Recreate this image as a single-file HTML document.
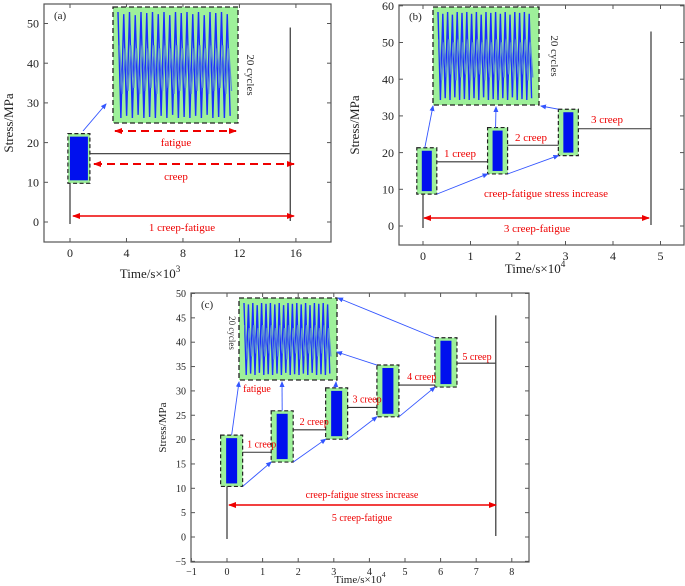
<!DOCTYPE html>
<html><head><meta charset="utf-8"><style>
html,body{margin:0;padding:0;background:#fff}
svg{display:block}
text{font-family:"Liberation Serif",serif}
</style></head><body>
<svg id="fig" width="685" height="586" viewBox="0 0 685 586" xmlns="http://www.w3.org/2000/svg">
<defs>
<marker id="ar" markerWidth="8" markerHeight="8" refX="7" refY="4" orient="auto" markerUnits="userSpaceOnUse"><path d="M0,1 L8,4 L0,7 Z" fill="#e00"/></marker>
<marker id="al" markerWidth="8" markerHeight="8" refX="1" refY="4" orient="auto" markerUnits="userSpaceOnUse"><path d="M8,1 L0,4 L8,7 Z" fill="#e00"/></marker>
<marker id="ab" markerWidth="6" markerHeight="6" refX="5" refY="3" orient="auto" markerUnits="userSpaceOnUse"><path d="M0,0.5 L6,3 L0,5.5 Z" fill="#3355ff"/></marker>
</defs>
</svg>
<script>
// ---- data ----
const aXTicks=[0,4,8,12,16];
const aYTicks=[0,10,20,30,40,50];
const aBoxTime=[0.63];
const aBlueLow=[10.5];
const aBlueHigh=[21.5];
const aCreep=[17.2];
const aEnd=15.6, aPeak=49;

const bXTicks=[0,1,2,3,4,5];
const bYTicks=[0,10,20,30,40,50,60];
const bBoxTime=[0.08,1.57,3.06];
const bBlueLow=[9.5,15,20];
const bBlueHigh=[20.5,26,31];
const bCreep=[17.5,22,26.5];
const bEnd=4.8, bPeak=53;

const cXTicks=[-1,0,1,2,3,4,5,6,7,8];
const cYTicks=[-5,0,5,10,15,20,25,30,35,40,45,50];
const cBoxTime=[0.13,1.55,3.08,4.52,6.15];
const cBlueLow=[11,16,20.7,25.3,31.4];
const cBlueHigh=[20.3,25.3,30,34.7,40.3];
const cCreep=[17.4,22,26.6,31.2,35.7];
const cEnd=7.55, cPeak=45.5;

const waveHigh=[1,0.98,1,0.97,1,0.99,1,0.98,1,0.97,1,0.99,1,0.98,1,0.97,1,0.99,1,0.98];
const waveLow=[0,0.02,0,0.03,0,0.01,0,0.02,0,0.03,0,0.01,0,0.02,0,0.03,0,0.01,0,0.02];

// ---- helpers ----
const S=document.getElementById('fig');
const NS='http://www.w3.org/2000/svg';
function el(tag,at,txt){const e=document.createElementNS(NS,tag);for(const k in at)e.setAttribute(k,at[k]);if(txt!==undefined)e.textContent=txt;S.appendChild(e);return e;}

function panel(p){
  const sx=v=>p.x0+v*p.kx, sy=v=>p.y0-v*p.ky;
  p.sx=sx;p.sy=sy;
  const fr=el('rect',{x:p.L,y:p.T,width:p.R-p.L,height:p.B-p.T,fill:'none',stroke:'#555','stroke-width':1.2});
  
  
  p.xt.forEach(v=>{
    const X=sx(v);
    el('line',{x1:X,y1:p.B,x2:X,y2:p.B-4,stroke:'#555'});
    el('line',{x1:X,y1:p.T,x2:X,y2:p.T+4,stroke:'#555'});
    const t=el('text',{x:X,y:p.B+p.fs+3,'font-size':p.fs,'text-anchor':'middle',fill:'#222'},String(v).replace('-','−'));
    
    
  });
  p.yt.forEach(v=>{
    const Y=sy(v);
    el('line',{x1:p.L,y1:Y,x2:p.L+4,y2:Y,stroke:'#555'});
    el('line',{x1:p.R,y1:Y,x2:p.R-4,y2:Y,stroke:'#555'});
    const t=el('text',{x:p.L-5,y:Y+p.fs*0.35,'font-size':p.fs,'text-anchor':'end',fill:'#222'},String(v).replace('-','−'));
    
    
  });
  const yl=el('text',{x:0,y:0,'font-size':p.lfs,'text-anchor':'middle',fill:'#222',transform:`translate(${p.ylx},${(p.T+p.B)/2}) rotate(-90)`},'Stress/MPa');
  
  
  const xl=el('text',{x:p.xlx,y:p.xly,'font-size':p.lfs,'text-anchor':'middle',fill:'#222'});
  
  
  xl.innerHTML='Time/s×10<tspan dy="-6" font-size="'+(p.lfs*0.7)+'">'+p.exp+'</tspan>';
  const pl=el('text',{x:p.L+10,y:p.T+15,'font-size':11,fill:'#222'},p.tag);
  
  
}

function inset(id,x,y,w,h){
  const r=el('rect',{x:x,y:y,width:w,height:h,fill:'#9ef09a',stroke:'#222','stroke-width':1.3,'stroke-dasharray':'5,3'});
  
  
  const n=waveHigh.length, step=(w-10)/n;
  let d1='',d2='';
  for(let i=0;i<n;i++){
    const x1=x+5+i*step, x2=x1+step/2;
    const top=y+5+(1-waveHigh[i])*(h-10), bot=y+5+(1-waveLow[i])*(h-10);
    d1+=(i?'L':'M')+x1+','+top+' L'+x2+','+bot+' ';
    const mt=y+h*0.33+(i%2)*3, mb=y+h*0.75-(i%3)*3;
    d2+=(i?'L':'M')+(x1+step*0.25)+','+mt+' L'+(x1+step*0.75)+','+mb+' ';
  }
  const p1=el('path',{d:d1,fill:'none',stroke:'#1a2cff','stroke-width':1.4});
  
  
  const p2=el('path',{d:d2,fill:'none',stroke:'#5a8ad8','stroke-width':1.3});
  
  
}

function boxes(p,times,lows,highs,creeps,end,peak,bw,blw){
  const res=[];
  times.forEach((t,i)=>{
    const X=p.sx(t), yl=p.sy(lows[i]), yh=p.sy(highs[i]);
    const g=el('rect',{x:X-bw/2,y:yh-3,width:bw,height:yl-yh+6,fill:'#9ef09a',stroke:'#222','stroke-width':1.2,'stroke-dasharray':'4,2.5'});
    
    
    const b=el('rect',{x:X-blw/2,y:yh,width:blw,height:yl-yh,fill:'#0010ee'});
    
    
    const nextX=i<times.length-1?p.sx(times[i+1])-blw/2:p.sx(end);
    const c=el('line',{x1:X+bw/2,y1:p.sy(creeps[i]),x2:nextX,y2:p.sy(creeps[i]),stroke:'#333','stroke-width':1.1});
    
    
    res.push({X:X,top:yh-3,bot:yl+3,l:X-bw/2,r:X+bw/2,cy:p.sy(creeps[i]),nx:nextX});
  });
  const v=el('line',{x1:p.sx(end),y1:p.sy(peak),x2:p.sx(end),y2:p.sy(0)-1,stroke:'#444','stroke-width':1.3});
  
  
  const v0=el('line',{x1:p.sx(0),y1:p.sy(lows[0])+3,x2:p.sx(0),y2:p.sy(0)+2,stroke:'#333','stroke-width':1.2});
  
  
  return res;
}
function redArrow(name,x1,x2,y,dash){
  const a=el('line',{x1:x1,y1:y,x2:x2,y2:y,stroke:'#e00','stroke-width':dash?2:1.6,'marker-start':'url(#al)','marker-end':'url(#ar)'});
  if(dash)a.setAttribute('stroke-dasharray','8,5');
  
  
}
function redText(name,x,y,s,fs,anchor){
  const t=el('text',{x:x,y:y,'font-size':fs,fill:'#e00','text-anchor':anchor||'middle'},s);
  
  
}
function blueArrow(name,x1,y1,x2,y2){
  const a=el('line',{x1:x1,y1:y1,x2:x2,y2:y2,stroke:'#3355ff','stroke-width':0.9,'marker-end':'url(#ab)'});
  
  
}
function cyc(name,x,y,fs){
  const t=el('text',{x:0,y:0,'font-size':fs,fill:'#333','text-anchor':'middle',transform:`translate(${x},${y}) rotate(90)`},'20 cycles');
  
  
}

// ---- panel a ----
const A={id:'panel-a',tag:'(a)',L:44,R:331,T:4,B:242,x0:70,kx:14.12,y0:222,ky:3.97,xt:aXTicks,yt:aYTicks,fs:12,lfs:13,ylx:13,xlx:150,xly:278,exp:'3'};
panel(A);
inset('panel-a',113,7,125,116);
cyc('panel-a-cycles-label',247,75,11);
const ra=boxes(A,aBoxTime,aBlueLow,aBlueHigh,aCreep,aEnd,aPeak,22,18);
blueArrow('panel-a-zoom-arrow',83,131,106,104);
redArrow('panel-a-fatigue-arrow',115,236,131,true);
redText('panel-a-fatigue-label',176,146,'fatigue',11);
redArrow('panel-a-creep-arrow',94,294,164,true);
redText('panel-a-creep-label',176,180,'creep',11);
redArrow('panel-a-cycle-arrow',73,294,216,false);
redText('panel-a-cycle-label',182,231,'1 creep-fatigue',11);

// ---- panel b ----
const B={id:'panel-b',tag:'(b)',L:399,R:684,T:5,B:245,x0:423,kx:47.5,y0:226,ky:3.67,xt:bXTicks,yt:bYTicks,fs:12,lfs:13,ylx:359,xlx:535,xly:273,exp:'4'};
panel(B);
inset('panel-b',433,7,106,98);
cyc('panel-b-cycles-label',551,56,11);
const rb=boxes(B,bBoxTime,bBlueLow,bBlueHigh,bCreep,bEnd,bPeak,20,10);
blueArrow('panel-b-zoom-arrow-1',rb[0].X-2,rb[0].top,433,106);
blueArrow('panel-b-zoom-arrow-2',rb[1].X-2,rb[1].top,496,107);
blueArrow('panel-b-zoom-arrow-3',rb[2].l,rb[2].top,541,106);
blueArrow('panel-b-increase-arrow-1',rb[0].r,rb[0].bot,rb[1].l,rb[1].bot);
blueArrow('panel-b-increase-arrow-2',rb[1].r,rb[1].bot,rb[2].l,rb[2].bot);
redText('panel-b-creep-label-1',460,157,'1 creep',11);
redText('panel-b-creep-label-2',531,141,'2 creep',11);
redText('panel-b-creep-label-3',607,123,'3 creep',11);
redText('panel-b-increase-label',546,197,'creep-fatigue stress increase',11);
redArrow('panel-b-cycle-arrow',424,649,218,false);
redText('panel-b-cycle-label',537,232,'3 creep-fatigue',11);

// ---- panel c ----
const C={id:'panel-c',tag:'(c)',L:191,R:529,T:293,B:562,x0:227,kx:35.6,y0:537,ky:4.87,xt:cXTicks,yt:cYTicks,fs:10,lfs:11,ylx:166,xlx:360,xly:583,exp:'4'};
panel(C);
inset('panel-c',239,298,98,82);
cyc('panel-c-cycles-label',229,333,9);
const rc=boxes(C,cBoxTime,cBlueLow,cBlueHigh,cCreep,cEnd,cPeak,22,11);
redText('panel-c-fatigue-label',257,392,'fatigue',10);
blueArrow('panel-c-zoom-arrow-1',rc[0].X,rc[0].top,239,382);
blueArrow('panel-c-zoom-arrow-2',rc[1].X,rc[1].top,282,382);
blueArrow('panel-c-zoom-arrow-3',rc[2].X-1,rc[2].top,336,382);
blueArrow('panel-c-zoom-arrow-4',rc[3].l,rc[3].top,337,352);
blueArrow('panel-c-zoom-arrow-5',rc[4].l,rc[4].top,338,298);
for(let i=0;i<rc.length-1;i++){
  blueArrow('panel-c-increase-arrow-'+(i+1),rc[i].r,rc[i].bot,rc[i+1].l,rc[i+1].bot);
  redText('panel-c-creep-label-'+(i+1),(rc[i].r+rc[i].nx)/2+2,rc[i].cy-5,(i+1)+' creep',10);
}
redText('panel-c-creep-label-5',477,360,'5 creep',10);
redText('panel-c-increase-label',362,498,'creep-fatigue stress increase',10);
redArrow('panel-c-cycle-arrow',229,496,505,false);
redText('panel-c-cycle-label',362,521,'5 creep-fatigue',10);
</script>
</body></html>
